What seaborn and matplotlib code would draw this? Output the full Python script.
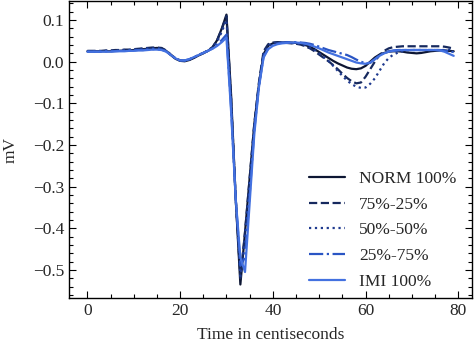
import numpy as np
import pandas as pd
import seaborn as sns
import matplotlib
matplotlib.use("Agg")
import matplotlib.pyplot as plt
from matplotlib.ticker import MultipleLocator

# ---------------- data (x = 0..79 centiseconds) ----------------
time_cs = list(range(80))

norm_100 = [0.025, 0.025, 0.025, 0.025, 0.025, 0.025, 0.026, 0.026, 0.027, 0.027,
            0.028, 0.029, 0.030, 0.031, 0.032, 0.033, 0.032, 0.026, 0.016, 0.007,
            0.002, 0.001, 0.004, 0.009, 0.015, 0.020, 0.026, 0.034, 0.052, 0.080,
            0.113, -0.080, -0.330, -0.535, -0.410, -0.280, -0.150, -0.055, 0.018, 0.038,
            0.044, 0.046, 0.046, 0.046, 0.046, 0.045, 0.043, 0.040, 0.036, 0.030,
            0.023, 0.016, 0.009, 0.002, -0.004, -0.009, -0.014, -0.017, -0.018, -0.016,
            -0.010, 0.000, 0.010, 0.017, 0.021, 0.024, 0.025, 0.025, 0.024, 0.022,
            0.021, 0.020, 0.021, 0.023, 0.025, 0.026, 0.027, 0.027, 0.026, 0.025]

mix_75_25 = [0.026, 0.026, 0.026, 0.026, 0.027, 0.027, 0.028, 0.028, 0.029, 0.029,
             0.030, 0.031, 0.032, 0.033, 0.034, 0.034, 0.033, 0.027, 0.017, 0.008,
             0.003, 0.002, 0.005, 0.010, 0.016, 0.021, 0.027, 0.035, 0.052, 0.078,
             0.110, -0.090, -0.330, -0.520, -0.410, -0.280, -0.150, -0.050, 0.025, 0.042,
             0.046, 0.047, 0.046, 0.045, 0.044, 0.043, 0.041, 0.037, 0.032, 0.025,
             0.017, 0.009, 0.001, -0.008, -0.018, -0.029, -0.039, -0.047, -0.052, -0.050,
             -0.036, -0.018, 0.000, 0.016, 0.026, 0.032, 0.035, 0.036, 0.037, 0.037,
             0.037, 0.037, 0.037, 0.037, 0.037, 0.037, 0.037, 0.036, 0.034, 0.031]

mix_50_50 = [0.025, 0.025, 0.025, 0.025, 0.026, 0.026, 0.027, 0.027, 0.028, 0.028,
             0.029, 0.030, 0.031, 0.032, 0.032, 0.032, 0.031, 0.026, 0.017, 0.008,
             0.003, 0.002, 0.005, 0.010, 0.016, 0.021, 0.026, 0.033, 0.048, 0.072,
             0.100, -0.090, -0.330, -0.515, -0.420, -0.290, -0.155, -0.055, 0.020, 0.039,
             0.045, 0.046, 0.046, 0.046, 0.045, 0.044, 0.042, 0.039, 0.034, 0.028,
             0.020, 0.011, 0.002, -0.010, -0.022, -0.034, -0.045, -0.054, -0.060, -0.063,
             -0.062, -0.053, -0.040, -0.022, -0.004, 0.009, 0.017, 0.022, 0.025, 0.027,
             0.028, 0.028, 0.028, 0.028, 0.028, 0.028, 0.028, 0.028, 0.029, 0.030]

mix_25_75 = [0.024, 0.024, 0.024, 0.024, 0.025, 0.025, 0.025, 0.026, 0.026, 0.027,
             0.027, 0.028, 0.028, 0.029, 0.030, 0.030, 0.029, 0.025, 0.016, 0.008,
             0.003, 0.003, 0.006, 0.011, 0.016, 0.021, 0.026, 0.032, 0.041, 0.052,
             0.065, -0.110, -0.330, -0.490, -0.470, -0.320, -0.165, -0.058, 0.012, 0.032,
             0.040, 0.044, 0.046, 0.047, 0.047, 0.047, 0.046, 0.045, 0.043, 0.040,
             0.036, 0.032, 0.028, 0.025, 0.022, 0.019, 0.016, 0.011, 0.005, 0.000,
             -0.004, -0.003, 0.006, 0.015, 0.021, 0.025, 0.027, 0.028, 0.028, 0.028,
             0.028, 0.028, 0.028, 0.028, 0.028, 0.028, 0.028, 0.027, 0.025, 0.023]

imi_100 = [0.024, 0.024, 0.024, 0.024, 0.024, 0.024, 0.025, 0.025, 0.025, 0.026,
           0.026, 0.027, 0.027, 0.028, 0.029, 0.029, 0.028, 0.024, 0.016, 0.008,
           0.003, 0.003, 0.006, 0.011, 0.016, 0.021, 0.026, 0.031, 0.038, 0.047,
           0.058, -0.120, -0.330, -0.470, -0.505, -0.340, -0.175, -0.062, 0.010, 0.030,
           0.038, 0.042, 0.044, 0.045, 0.046, 0.046, 0.045, 0.043, 0.040, 0.036,
           0.032, 0.027, 0.022, 0.018, 0.014, 0.010, 0.006, 0.002, -0.002, -0.004,
           -0.005, -0.002, 0.006, 0.014, 0.020, 0.024, 0.026, 0.027, 0.028, 0.028,
           0.028, 0.028, 0.028, 0.028, 0.028, 0.028, 0.027, 0.024, 0.019, 0.014]

series_labels = ["NORM 100%", "75%-25%", "50%-50%", "25%-75%", "IMI 100%"]
series_values = [norm_100, mix_75_25, mix_50_50, mix_25_75, imi_100]
series_colors = ["#0d1633", "#16295e", "#1f3a8f", "#2a55c4", "#4371e0"]
series_styles = ["-", "--", ":", "-.", "-"]

# ---------------- style ----------------
sns.set_style("ticks")
plt.rcParams["font.family"] = ["Liberation Serif", "DejaVu Serif"]
plt.rcParams["mathtext.fontset"] = "stix"
plt.rcParams["axes.unicode_minus"] = True

fig = plt.figure(figsize=(4.74, 3.42), dpi=100)
ax = fig.add_axes([0.1456, 0.1287, 0.8502, 0.868])

for lab, vals, col, ls in zip(series_labels, series_values, series_colors, series_styles):
    df = pd.DataFrame({"t": time_cs, "v": vals})
    sns.lineplot(data=df, x="t", y="v", ax=ax, color=col, linestyle=ls,
                 linewidth=1.6, label=lab)

ax.set_xlabel("Time in centiseconds", fontsize=12.5, labelpad=6)
ax.set_ylabel("mV", fontsize=12.5, labelpad=10)

ax.xaxis.set_major_locator(MultipleLocator(20))
ax.xaxis.set_minor_locator(MultipleLocator(5))
ax.yaxis.set_major_locator(MultipleLocator(0.1))
ax.yaxis.set_minor_locator(MultipleLocator(0.02))
ax.tick_params(which="both", direction="in", top=True, right=True, labelsize=12.5,
               color="black", width=0.8)
ax.tick_params(which="major", length=5)
ax.tick_params(which="minor", length=2.8)
for s in ax.spines.values():
    s.set_linewidth(1.0)
    s.set_color("black")

ax.legend(loc="lower right", frameon=False, fontsize=12.5, handlelength=2.1,
          labelspacing=0.55, bbox_to_anchor=(1.0, -0.025))

fig.savefig("out.png", dpi=100)
